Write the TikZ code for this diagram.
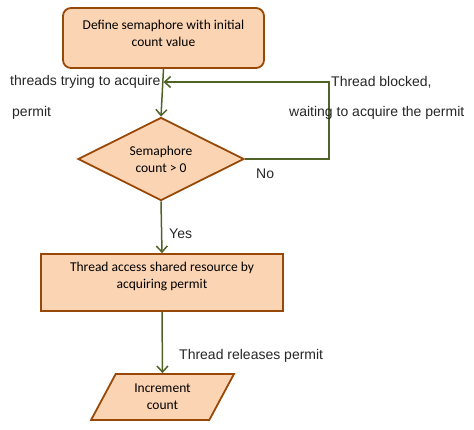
\documentclass[tikz,border=0pt]{standalone}
\usepackage{fontspec}
\setmainfont{Liberation Sans}
\newfontfamily\boxfont{Carlito}
\usetikzlibrary{shapes.geometric,arrows.meta}
\definecolor{boxfill}{HTML}{FBD4B4}
\definecolor{boxline}{HTML}{984807}
\definecolor{flow}{HTML}{4F6228}
\tikzset{
  stepbox/.style={draw=boxline,fill=boxfill,line width=1.8pt,inner sep=0pt,
    align=center,font=\boxfont\fontsize{13.5}{17}\selectfont},
  flowline/.style={draw=flow,line width=1.5pt,-{Straight Barb[length=6pt,width=11pt,line width=1.5pt]}},
  lbl/.style={font=\fontsize{14}{16}\selectfont,inner sep=0pt,text=black!85}
}
\begin{document}
\begin{tikzpicture}[x=1pt,y=-1pt]
\useasboundingbox (0,0) rectangle (474,429);
\node[stepbox,rounded corners=8pt,minimum width=201pt,minimum height=60pt] (def) at (163.5,38)
  {Define semaphore with initial\\count value\\[-8pt]};
\node[stepbox,diamond,aspect=2,minimum width=166pt,minimum height=83pt] (dia) at (161,159)
  {Semaphore\\count > 0};
\node[stepbox,minimum width=242pt,minimum height=57pt] (acc) at (162,282.5)
  {Thread access shared resource by\\acquiring permit\\[-2pt]};
\node[stepbox,trapezium,trapezium left angle=60,trapezium right angle=120,
  trapezium stretches=true,minimum width=143pt,minimum height=46pt] (inc) at (162.5,397)
  {Increment\\count};
\coordinate (j) at (def.south |- 0,82);
\coordinate (r) at (329,159);
\draw[flowline] (def.south) -- (dia.north);
\draw[flowline] (dia.east) -- (r) |- (j);
\draw[flowline] (dia.south) -- (acc.north);
\draw[flowline] (acc.south) -- (inc.north);
\node[lbl,anchor=west] (t1) at (10,82) {threads trying to acquire};
\node[lbl,anchor=west] (t2) at (12,113) {permit};
\node[lbl,anchor=west] (t3) at (331,82) {Thread blocked,};
\node[lbl,anchor=west] (t4) at (289,113) {waiting to acquire the permit};
\node[lbl,anchor=west] (no) at (256,174) {No};
\node[lbl,anchor=west] (yes) at (169,234) {Yes};
\node[lbl,anchor=west] (rel) at (179,356) {Thread releases permit};
\end{tikzpicture}
\end{document}
